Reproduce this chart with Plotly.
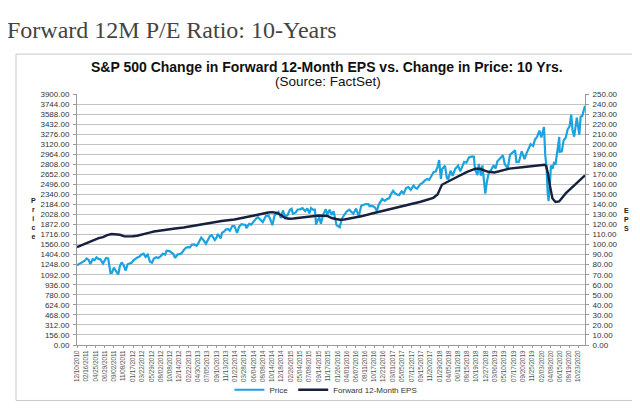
import plotly.graph_objects as go

# ---------------- data ----------------
price_dates = [
    "2010-12-10","2010-12-24","2011-01-07","2011-01-21","2011-02-04","2011-02-18","2011-03-04","2011-03-16",
    "2011-04-01","2011-04-15","2011-04-29","2011-05-13","2011-05-27","2011-06-15","2011-06-30","2011-07-07",
    "2011-07-22","2011-08-08","2011-08-19","2011-09-01","2011-09-22","2011-10-03","2011-10-14","2011-10-27",
    "2011-11-10","2011-11-25","2011-12-09","2011-12-23","2012-01-06","2012-01-20","2012-02-03","2012-02-17",
    "2012-03-02","2012-03-16","2012-04-02","2012-04-16","2012-05-01","2012-05-18","2012-06-01","2012-06-15",
    "2012-07-02","2012-07-16","2012-08-01","2012-08-17","2012-09-04","2012-09-14","2012-10-05","2012-10-19",
    "2012-11-02","2012-11-15","2012-12-03","2012-12-14","2012-12-31","2013-01-15","2013-02-01","2013-02-15",
    "2013-03-01","2013-03-15","2013-04-01","2013-04-18","2013-05-01","2013-05-21","2013-06-03","2013-06-24",
    "2013-07-08","2013-07-23","2013-08-05","2013-08-27","2013-09-09","2013-09-18","2013-10-08","2013-10-18",
    "2013-11-01","2013-11-15","2013-12-02","2013-12-13","2013-12-31","2014-01-15","2014-02-03","2014-02-18",
    "2014-03-07","2014-03-20","2014-04-04","2014-04-11","2014-05-01","2014-05-15","2014-06-02","2014-06-20",
    "2014-07-03","2014-07-17","2014-08-01","2014-08-07","2014-08-29","2014-09-18","2014-10-01","2014-10-15",
    "2014-10-31","2014-11-14","2014-11-28","2014-12-16","2014-12-29","2015-01-15","2015-02-02","2015-02-18",
    "2015-03-02","2015-03-11","2015-04-01","2015-04-15","2015-05-01","2015-05-20","2015-06-08","2015-06-23",
    "2015-07-08","2015-07-20","2015-08-05","2015-08-17","2015-08-25","2015-09-01","2015-09-17","2015-09-29",
    "2015-10-15","2015-11-03","2015-11-13","2015-12-01","2015-12-14","2015-12-29","2016-01-11","2016-01-20",
    "2016-02-11","2016-02-25","2016-03-14","2016-04-01","2016-04-20","2016-05-02","2016-05-19","2016-06-08",
    "2016-06-27","2016-07-15","2016-08-01","2016-08-15","2016-09-07","2016-09-12","2016-10-03","2016-10-20",
    "2016-11-04","2016-11-18","2016-12-13","2016-12-30","2017-01-17","2017-02-01","2017-02-15","2017-03-01",
    "2017-03-21","2017-04-13","2017-05-01","2017-05-17","2017-06-02","2017-06-19","2017-07-06","2017-07-26",
    "2017-08-10","2017-08-21","2017-09-12","2017-09-29","2017-10-16","2017-11-01","2017-11-15","2017-12-04",
    "2017-12-18","2018-01-02","2018-01-16","2018-01-26","2018-02-08","2018-02-16","2018-03-09","2018-03-23",
    "2018-04-02","2018-04-18","2018-05-03","2018-05-21","2018-06-12","2018-06-27","2018-07-13","2018-07-25",
    "2018-08-10","2018-08-29","2018-09-20","2018-10-03","2018-10-11","2018-10-29","2018-11-07","2018-11-23",
    "2018-12-03","2018-12-14","2018-12-24","2019-01-04","2019-01-18","2019-02-01","2019-02-22","2019-03-08",
    "2019-03-21","2019-04-12","2019-04-30","2019-05-13","2019-06-03","2019-06-20","2019-07-15","2019-07-26",
    "2019-08-05","2019-08-23","2019-09-12","2019-10-02","2019-10-18","2019-11-01","2019-11-15","2019-12-03",
    "2019-12-16","2019-12-31","2020-01-17","2020-01-31","2020-02-19","2020-02-28","2020-03-09","2020-03-16",
    "2020-03-23","2020-04-01","2020-04-09","2020-04-21","2020-05-01","2020-05-13","2020-06-08","2020-06-11",
    "2020-06-26","2020-07-10","2020-07-24","2020-08-07","2020-08-21","2020-09-02","2020-09-11","2020-09-23",
    "2020-10-12","2020-10-30","2020-11-09","2020-11-20","2020-12-04","2020-12-10",
]
price_values = [
    1240,1257,1271,1283,1310,1343,1321,1257,
    1332,1319,1363,1337,1331,1265,1320,1353,
    1345,1119,1123,1204,1129,1099,1224,1284,
    1239,1158,1255,1265,1277,1315,1344,1361,
    1370,1404,1419,1369,1405,1295,1278,1342,
    1365,1353,1375,1418,1404,1465,1460,1433,
    1414,1353,1409,1413,1426,1472,1513,1520,
    1518,1560,1562,1541,1582,1669,1640,1573,
    1640,1692,1707,1630,1671,1725,1655,1744,
    1762,1798,1800,1775,1848,1848,1742,1840,
    1878,1872,1865,1816,1883,1870,1925,1963,
    1985,1958,1925,1910,2003,2011,1946,1862,
    2018,2039,2068,1972,2090,1992,2021,2100,
    2117,2040,2060,2106,2108,2126,2080,2124,
    2046,2128,2099,2102,1868,1914,1990,1884,
    2023,2109,2023,2103,2022,2078,1923,1859,
    1829,1951,2019,2073,2102,2081,2040,2119,
    2001,2162,2171,2190,2186,2159,2161,2141,
    2085,2182,2271,2239,2268,2280,2349,2396,
    2344,2329,2388,2357,2439,2453,2409,2477,
    2438,2428,2496,2519,2557,2579,2565,2639,
    2690,2696,2776,2873,2581,2732,2786,2588,
    2582,2708,2630,2733,2786,2699,2801,2846,
    2833,2914,2931,2925,2728,2641,2814,2633,
    2790,2600,2351,2532,2671,2707,2793,2743,
    2855,2907,2946,2812,2744,2955,3014,3026,
    2844,2847,3010,2888,2986,3067,3120,3093,
    3191,3231,3330,3226,3386,2954,2747,2386,
    2237,2470,2790,2737,2831,2820,3232,3002,
    3009,3185,3216,3351,3397,3580,3341,3237,
    3534,3270,3550,3557,3699,3715,
]

eps_dates = [
    "2010-12-10","2011-01-14","2011-02-15","2011-03-15","2011-04-15","2011-05-15","2011-06-15","2011-07-15",
    "2011-08-15","2011-09-15","2011-10-15","2011-11-15","2011-12-15","2012-01-15","2012-02-15","2012-03-15",
    "2012-04-15","2012-05-15","2012-06-15","2012-07-15","2012-09-15","2012-11-15","2013-01-15","2013-03-15",
    "2013-05-15","2013-08-15","2013-10-15","2014-01-15","2014-03-15","2014-06-15","2014-09-15","2014-10-15",
    "2014-11-15","2014-12-15","2015-01-15","2015-02-15","2015-03-15","2015-04-15","2015-06-15","2015-09-15",
    "2015-11-15","2015-12-15","2016-01-15","2016-02-15","2016-03-15","2016-04-15","2016-07-15","2016-10-15",
    "2017-02-15","2017-06-15","2017-09-15","2017-12-15","2018-01-15","2018-01-31","2018-02-15","2018-04-15",
    "2018-06-15","2018-08-15","2018-10-15","2018-11-15","2018-12-15","2019-01-15","2019-02-28","2019-04-15",
    "2019-06-15","2019-09-15","2019-11-15","2020-01-15","2020-02-22","2020-03-05","2020-03-20","2020-03-31",
    "2020-04-20","2020-05-12","2020-06-07","2020-07-24","2020-09-10","2020-10-28","2020-12-10",
]
eps_values = [
    97.5,99.5,101.5,102.5,104.5,106.5,107.5,109.5,
    110.5,110.3,109.8,108.2,108.0,108.3,108.8,110.0,
    111.0,112.0,113.0,113.7,114.5,116.0,117.0,118.5,
    120.0,121.8,123.5,125.0,126.5,129.2,132.0,132.3,
    131.5,129.5,126.5,125.8,126.0,126.5,128.2,129.0,
    128.5,126.5,125.5,124.7,125.0,125.7,128.2,131.5,
    135.7,139.5,142.7,146.6,150.0,155.0,159.6,163.8,
    168.0,172.5,175.7,175.5,174.0,172.5,171.8,173.5,
    175.7,177.0,178.0,179.2,179.5,178.5,170.0,160.0,
    146.0,142.4,143.0,151.0,157.0,163.5,169.0,
]

tick_dates = [
    "2010-12-10","2011-02-16","2011-04-25","2011-06-29","2011-09-02","2011-11-08","2012-01-17","2012-03-22",
    "2012-05-29","2012-08-02","2012-10-08","2012-12-14","2013-02-22","2013-04-30","2013-07-05","2013-09-10",
    "2013-11-13","2014-01-22","2014-03-28","2014-06-04","2014-08-08","2014-10-14","2014-12-18","2015-02-26",
    "2015-05-04","2015-07-08","2015-09-14","2015-11-17","2016-01-26","2016-04-01","2016-06-07","2016-08-11",
    "2016-10-17","2016-12-21","2017-03-01","2017-05-05","2017-07-12","2017-09-15","2017-11-20","2018-01-29",
    "2018-04-05","2018-06-11","2018-08-15","2018-10-19","2018-12-27","2019-03-06","2019-05-10","2019-07-17",
    "2019-09-20","2019-11-25","2020-02-03","2020-04-08","2020-06-15","2020-08-19","2020-10-23",
]
tick_labels = [d[5:7] + "/" + d[8:10] + "/" + d[0:4] for d in tick_dates]

price_ticks = [i * 156 for i in range(26)]
eps_ticks = [i * 10 for i in range(26)]

# ---------------- figure ----------------
PRICE_COLOR = "#1aa3df"
EPS_COLOR = "#16203f"
FONT = "Liberation Sans, Arial, sans-serif"

fig = go.Figure()
fig.add_trace(go.Scatter(x=price_dates, y=price_values, name="Price", mode="lines",
                         line=dict(color=PRICE_COLOR, width=2.2)))
fig.add_trace(go.Scatter(x=eps_dates, y=eps_values, name="Forward 12-Month EPS", mode="lines",
                         line=dict(color=EPS_COLOR, width=2.4), yaxis="y2"))

L, R, T, B = 69, 63, 86, 64
W, H = 640, 408
pw, ph = W - L - R, H - T - B

def px(x):
    return (x - L) / pw

def py(y):
    return (H - B - y) / ph

fig.update_layout(
    width=W, height=H,
    margin=dict(l=L, r=R, t=T, b=B),
    paper_bgcolor="white", plot_bgcolor="white",
    font=dict(family=FONT, color="#333333", size=8),
    showlegend=True,
    legend=dict(orientation="h", x=0.49, xanchor="center", y=py(390), yanchor="middle",
                font=dict(size=8, color="#333333"), bgcolor="rgba(0,0,0,0)",
                itemwidth=30, tracegroupgap=0),
    xaxis=dict(type="date", range=["2010-12-10", "2020-12-10"],
               tickmode="array", tickvals=tick_dates, ticktext=tick_labels,
               tickangle=-90, tickfont=dict(size=6.3, color="#555555"),
               showgrid=False, showline=True, linecolor="#9a9a9a", linewidth=1,
               ticks="outside", ticklen=2, tickcolor="#9a9a9a", zeroline=False),
    yaxis=dict(range=[0, 3900], tickmode="array", tickvals=price_ticks,
               tickformat=".2f", tickfont=dict(size=8, color="#333333"),
               showgrid=True, gridcolor="#c4c4c4", gridwidth=1,
               showline=True, linecolor="#9a9a9a", linewidth=1,
               ticks="outside", ticklen=3, tickcolor="#9a9a9a", zeroline=False,
               ticklabelstandoff=2),
    yaxis2=dict(range=[0, 250], tickmode="array", tickvals=eps_ticks,
                tickformat=".2f", tickfont=dict(size=8, color="#333333"),
                overlaying="y", side="right", showgrid=False,
                showline=True, linecolor="#9a9a9a", linewidth=1,
                ticks="outside", ticklen=3, tickcolor="#9a9a9a", zeroline=False,
                ticklabelstandoff=2),
)

# outer chart frame
fig.add_shape(type="rect", xref="paper", yref="paper",
              x0=px(8), x1=px(632), y0=py(401), y1=py(45),
              line=dict(color="#c8c8c8", width=1), fillcolor="rgba(0,0,0,0)", layer="below")

# page heading
fig.add_annotation(xref="paper", yref="paper", x=px(-3), y=py(20), xanchor="left", yanchor="middle",
                   text="Forward 12M P/E Ratio: 10-Years", showarrow=False,
                   font=dict(family="Liberation Serif, Times New Roman, serif", size=24, color="#444444"))
# chart title
fig.add_annotation(xref="paper", yref="paper", x=px(319), y=py(58), xanchor="center", yanchor="middle",
                   text="<b>S&P 500 Change in Forward 12-Month EPS vs. Change in Price: 10 Yrs.</b>",
                   showarrow=False, font=dict(family=FONT, size=14, color="#111111"))
fig.add_annotation(xref="paper", yref="paper", x=px(320), y=py(73), xanchor="center", yanchor="middle",
                   text="(Source: FactSet)", showarrow=False,
                   font=dict(family=FONT, size=13.5, color="#111111"))
# axis titles (stacked letters)
fig.add_annotation(xref="paper", yref="paper", x=px(25), y=py(214), xanchor="center", yanchor="middle",
                   text="<b>P<br>r<br>i<br>c<br>e</b>", showarrow=False,
                   font=dict(family=FONT, size=7, color="#222222"))
fig.add_annotation(xref="paper", yref="paper", x=px(618), y=py(215), xanchor="center", yanchor="middle",
                   text="<b>E<br>P<br>S</b>", showarrow=False,
                   font=dict(family=FONT, size=7, color="#222222"))

fig.write_html("out.html")
